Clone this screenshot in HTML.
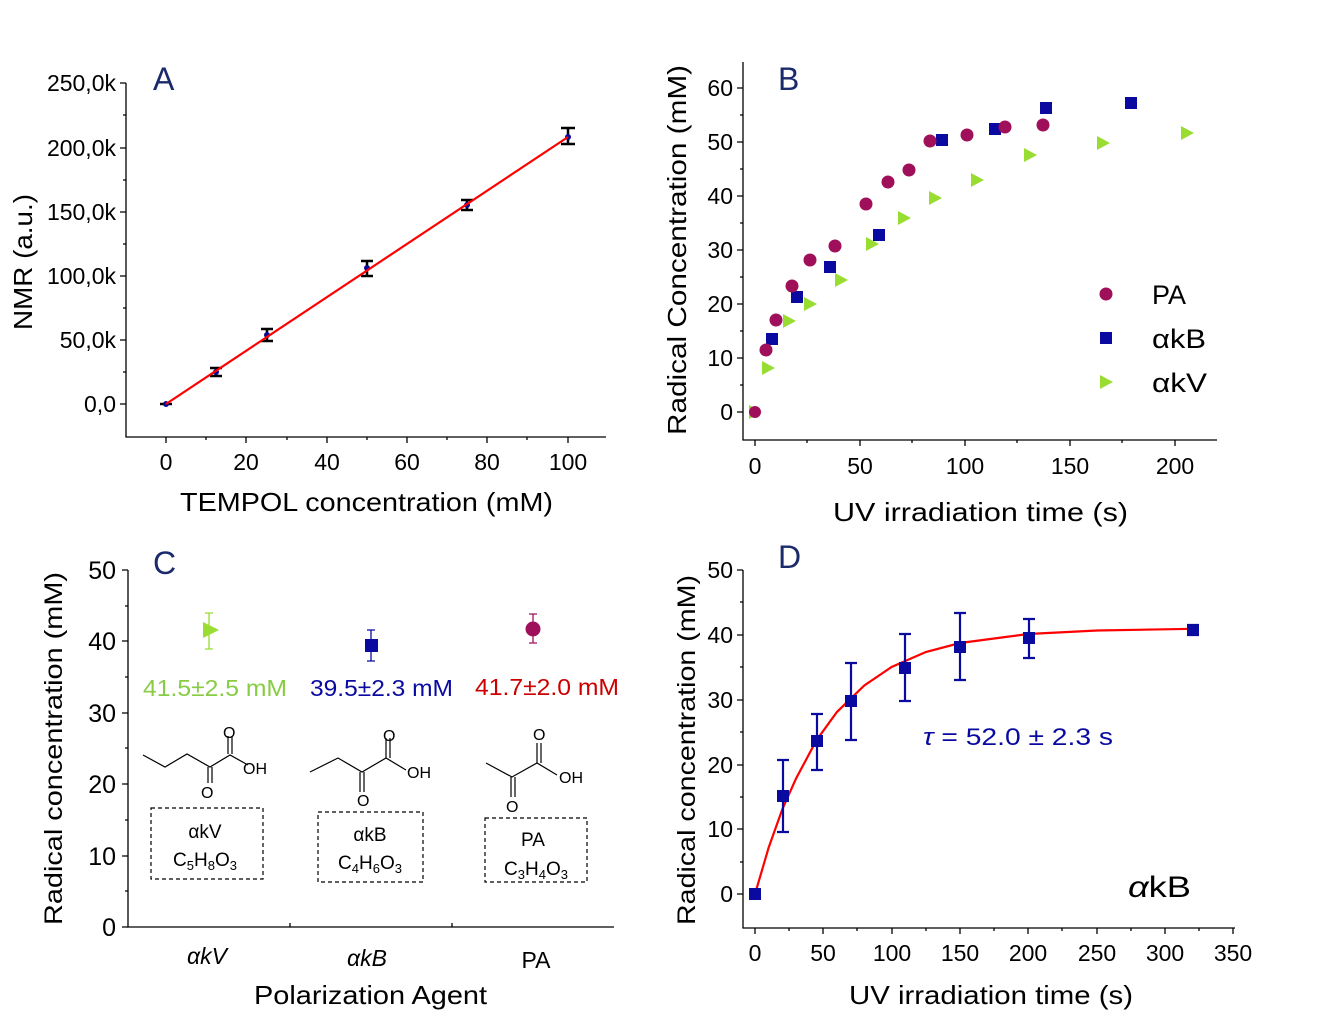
<!DOCTYPE html>
<html><head><meta charset="utf-8"><style>
body{margin:0;background:#fff}
svg{display:block;font-family:"Liberation Sans",sans-serif}
</style></head><body>
<svg width="1336" height="1012" viewBox="0 0 1336 1012" xmlns="http://www.w3.org/2000/svg">
<!-- Panel A -->
<g stroke="#000" stroke-width="1.3" fill="none">
<path d="M126 83V437H606"/>
<path d="M126 83h-6M126 148h-6M126 212h-6M126 276h-6M126 340h-6M126 404h-6M126 115h-3M126 180h-3M126 244h-3M126 308h-3M126 372h-3"/>
<path d="M166 437v6M246 437v6M327 437v6M407 437v6M487 437v6M568 437v6M206 437v3M287 437v3M367 437v3M447 437v3M527 437v3"/>
</g>
<g font-size="23" text-anchor="end" fill="#000">
<text x="116" y="91">250,0k</text><text x="116" y="156">200,0k</text><text x="116" y="220">150,0k</text><text x="116" y="284">100,0k</text><text x="116" y="348">50,0k</text><text x="116" y="412">0,0</text>
</g>
<g font-size="23" text-anchor="middle"><text x="166" y="470">0</text><text x="246" y="470">20</text><text x="327" y="470">40</text><text x="407" y="470">60</text><text x="487" y="470">80</text><text x="568" y="470">100</text></g>
<text x="180" y="511" font-size="26" textLength="373" lengthAdjust="spacingAndGlyphs">TEMPOL concentration (mM)</text>
<text transform="translate(32,330) rotate(-90)" font-size="26" textLength="136" lengthAdjust="spacingAndGlyphs">NMR (a.u.)</text>
<text x="153" y="90" font-size="32" fill="#1a2a6a">A</text>
<g stroke="#000" stroke-width="2.5">
<path d="M216 368v8M210 368h12M210 376h12M267 329v12M261 329h12M261 341h12M367 261v15M361 261h12M361 276h12M467 200v10M461 200h12M461 210h12M568 128v16M561 128h14M561 144h14M160 404h12"/>
</g>
<g fill="#0a0a99"><circle cx="166" cy="404" r="3"/><circle cx="216" cy="372" r="3"/><circle cx="267" cy="335" r="3"/><circle cx="367" cy="268" r="3"/><circle cx="467" cy="205" r="3"/><circle cx="568" cy="137" r="3"/></g>
<path d="M166 404L568 137" stroke="#f00" stroke-width="2.2"/>

<!-- Panel B -->
<g stroke="#000" stroke-width="1.3" fill="none">
<path d="M743 62V440H1217"/>
<path d="M743 88h-6M743 142h-6M743 196h-6M743 250h-6M743 304h-6M743 358h-6M743 412h-6M743 115h-3M743 169h-3M743 223h-3M743 277h-3M743 331h-3M743 385h-3"/>
<path d="M755 440v6M860 440v6M965 440v6M1070 440v6M1175 440v6M807 440v3M912 440v3M1017 440v3M1122 440v3"/>
</g>
<g font-size="23" text-anchor="end"><text x="733" y="96">60</text><text x="733" y="150">50</text><text x="733" y="204">40</text><text x="733" y="258">30</text><text x="733" y="312">20</text><text x="733" y="366">10</text><text x="733" y="420">0</text></g>
<g font-size="23" text-anchor="middle"><text x="755" y="474">0</text><text x="860" y="474">50</text><text x="965" y="474">100</text><text x="1070" y="474">150</text><text x="1175" y="474">200</text></g>
<text x="833" y="521" font-size="26" textLength="295" lengthAdjust="spacingAndGlyphs">UV irradiation time (s)</text>
<text transform="translate(686,435) rotate(-90)" font-size="26" textLength="370" lengthAdjust="spacingAndGlyphs">Radical Concentration (mM)</text>
<text x="778" y="90" font-size="32" fill="#1a2a6a">B</text>
<g fill="#99dd33">
<path d="M749 405l13 7-13 7zM762 361l13 7-13 7zM783 314l13 7-13 7zM804 297l13 7-13 7zM835 273l13 7-13 7zM866 237l13 7-13 7zM898 211l13 7-13 7zM929 191l13 7-13 7zM971 173l13 7-13 7zM1024 148l13 7-13 7zM1097 136l13 7-13 7zM1181 126l13 7-13 7zM1100 375l13 7-13 7z"/>
</g>
<g fill="#0a0aa0">
<rect x="766" y="333" width="12" height="12"/><rect x="791" y="291" width="12" height="12"/><rect x="824" y="261" width="12" height="12"/><rect x="873" y="229" width="12" height="12"/><rect x="936" y="134" width="12" height="12"/><rect x="989" y="123" width="12" height="12"/><rect x="1040" y="102" width="12" height="12"/><rect x="1125" y="97" width="12" height="12"/><rect x="1100" y="332" width="12" height="12"/>
</g>
<g fill="#a0105a">
<circle cx="755" cy="412" r="6"/><circle cx="766" cy="350" r="6.5"/><circle cx="776" cy="320" r="6.5"/><circle cx="792" cy="286" r="6.5"/><circle cx="810" cy="260" r="6.5"/><circle cx="835" cy="246" r="6.5"/><circle cx="866" cy="204" r="6.5"/><circle cx="888" cy="182" r="6.5"/><circle cx="909" cy="170" r="6.5"/><circle cx="930" cy="141" r="6.5"/><circle cx="967" cy="135" r="6.5"/><circle cx="1005" cy="127" r="6.5"/><circle cx="1043" cy="125" r="6.5"/><circle cx="1106" cy="294" r="6.5"/>
</g>
<g font-size="27"><text x="1152" y="304">PA</text><text x="1152" y="348" textLength="54" lengthAdjust="spacingAndGlyphs">αkB</text><text x="1152" y="392" textLength="55" lengthAdjust="spacingAndGlyphs">αkV</text></g>

<!-- Panel C -->
<g stroke="#000" stroke-width="1.3" fill="none">
<path d="M128 570V927H614"/>
<path d="M128 570h-6M128 641h-6M128 713h-6M128 784h-6M128 856h-6M128 927h-6M128 606h-3M128 677h-3M128 748h-3M128 820h-3M128 891h-3"/>
<path d="M290 927v-4M452 927v-4"/>
</g>
<g font-size="25" text-anchor="end"><text x="116" y="579">50</text><text x="116" y="650">40</text><text x="116" y="722">30</text><text x="116" y="793">20</text><text x="116" y="865">10</text><text x="116" y="936">0</text></g>
<g font-size="23" text-anchor="middle"><text x="207" y="964" font-style="italic">αkV</text><text x="367" y="966" font-style="italic">αkB</text><text x="536" y="968">PA</text></g>
<text x="254" y="1004" font-size="26" textLength="233" lengthAdjust="spacingAndGlyphs">Polarization Agent</text>
<text transform="translate(62,925) rotate(-90)" font-size="25" textLength="353" lengthAdjust="spacingAndGlyphs">Radical concentration (mM)</text>
<text x="153" y="574" font-size="32" fill="#1a2a6a">C</text>
<g stroke-width="1.3"><path d="M209 613v36M205 613h8M205 649h8" stroke="#99dd33"/><path d="M371 630v31M367 630h8M367 661h8" stroke="#0a0aa0"/><path d="M533 614v29M529 614h8M529 643h8" stroke="#a0105a"/></g>
<path d="M203 622l16 8-16 8z" fill="#99dd33"/>
<rect x="365" y="639" width="13" height="13" fill="#0a0aa0"/>
<circle cx="533" cy="629" r="7.5" fill="#a0105a"/>
<g font-size="23"><text x="143" y="696" fill="#88cc44" textLength="144" lengthAdjust="spacingAndGlyphs">41.5±2.5 mM</text><text x="310" y="696" fill="#0a0aa0" textLength="143" lengthAdjust="spacingAndGlyphs">39.5±2.3 mM</text><text x="475" y="695" fill="#cc0000" textLength="144" lengthAdjust="spacingAndGlyphs">41.7±2.0 mM</text></g>
<g stroke="#000" stroke-width="1.2" fill="none">
<path d="M143 755l22 12 22-13 23 13 20-12 18 10M208 767v16M212 767v16M228 754v-18M232 754v-18"/>
<path d="M310 772l28-14 24 14 24-14 20 12M360 772v20M364 772v20M386 758v-20M390 758v-20"/>
<path d="M486 763l26 14 25-14 20 12M511 777v20M515 777v20M537 763v-20M541 763v-20"/>
<path d="M151 808h112v71h-112z" stroke-dasharray="4 3"/>
<path d="M318 812h105v70h-105z" stroke-dasharray="4 3"/>
<path d="M485 818h102v64h-102z" stroke-dasharray="4 3"/>
</g>
<g font-size="16"><text x="223" y="738">O</text><text x="243" y="774">OH</text><text x="201" y="798">O</text><text x="383" y="741">O</text><text x="407" y="778">OH</text><text x="357" y="806">O</text><text x="533" y="740">O</text><text x="559" y="783">OH</text><text x="506" y="812">O</text></g>
<g font-size="19" text-anchor="middle"><text x="205" y="838">αkV</text><text x="205" y="866">C<tspan font-size="13" dy="4">5</tspan><tspan dy="-4">H</tspan><tspan font-size="13" dy="4">8</tspan><tspan dy="-4">O</tspan><tspan font-size="13" dy="4">3</tspan></text>
<text x="370" y="841">αkB</text><text x="370" y="869">C<tspan font-size="13" dy="4">4</tspan><tspan dy="-4">H</tspan><tspan font-size="13" dy="4">6</tspan><tspan dy="-4">O</tspan><tspan font-size="13" dy="4">3</tspan></text>
<text x="533" y="846">PA</text><text x="536" y="875">C<tspan font-size="13" dy="4">3</tspan><tspan dy="-4">H</tspan><tspan font-size="13" dy="4">4</tspan><tspan dy="-4">O</tspan><tspan font-size="13" dy="4">3</tspan></text></g>

<!-- Panel D -->
<g stroke="#000" stroke-width="1.3" fill="none">
<path d="M743 570V928H1235"/>
<path d="M743 570h-6M743 635h-6M743 700h-6M743 765h-6M743 829h-6M743 894h-6M743 602h-3M743 667h-3M743 732h-3M743 797h-3M743 862h-3"/>
<path d="M755 928v6M823 928v6M892 928v6M960 928v6M1028 928v6M1097 928v6M1165 928v6M1233 928v6M789 928v3M857 928v3M926 928v3M994 928v3M1062 928v3M1131 928v3M1199 928v3"/>
</g>
<g font-size="23" text-anchor="end"><text x="733" y="578">50</text><text x="733" y="643">40</text><text x="733" y="708">30</text><text x="733" y="773">20</text><text x="733" y="837">10</text><text x="733" y="902">0</text></g>
<g font-size="23" text-anchor="middle"><text x="755" y="961">0</text><text x="823" y="961">50</text><text x="892" y="961">100</text><text x="960" y="961">150</text><text x="1028" y="961">200</text><text x="1097" y="961">250</text><text x="1165" y="961">300</text><text x="1233" y="961">350</text></g>
<text x="849" y="1004" font-size="26" textLength="284" lengthAdjust="spacingAndGlyphs">UV irradiation time (s)</text>
<text transform="translate(695,925) rotate(-90)" font-size="25" textLength="350" lengthAdjust="spacingAndGlyphs">Radical concentration (mM)</text>
<text x="778" y="568" font-size="32" fill="#1a2a6a">D</text>
<path d="M755 894L768.7 847.5L782.3 809.3L796 778.6L816.5 740.2L837 711.9L864.3 685.5L891.6 667L925.8 652L960 643L1028 634L1097 630.5L1193 628.8" stroke="#f00" stroke-width="2.2" fill="none"/>
<g stroke="#0a0aa0" stroke-width="2.2">
<path d="M783 760v72M777 760h12M777 832h12M817 714v56M811 714h12M811 770h12M851 663v77M845 663h12M845 740h12M905 634v67M899 634h12M899 701h12M960 613v67M954 613h12M954 680h12M1029 619v39M1023 619h12M1023 658h12M1193 625v10M1187 625h12M1187 635h12"/>
</g>
<g fill="#0a0aa0"><rect x="749" y="888" width="12" height="12"/><rect x="777" y="790" width="12" height="12"/><rect x="811" y="735" width="12" height="12"/><rect x="845" y="695" width="12" height="12"/><rect x="899" y="662" width="12" height="12"/><rect x="954" y="641" width="12" height="12"/><rect x="1023" y="632" width="12" height="12"/><rect x="1187" y="624" width="12" height="12"/></g>
<text x="923" y="745" font-size="24" fill="#0a0aa0" textLength="190" lengthAdjust="spacingAndGlyphs"><tspan font-style="italic">τ</tspan> = 52.0 ± 2.3 s</text>
<text x="1128" y="897" font-size="30" font-style="italic" textLength="63" lengthAdjust="spacingAndGlyphs">α<tspan font-style="normal">kB</tspan></text>
</svg>
</body></html>
